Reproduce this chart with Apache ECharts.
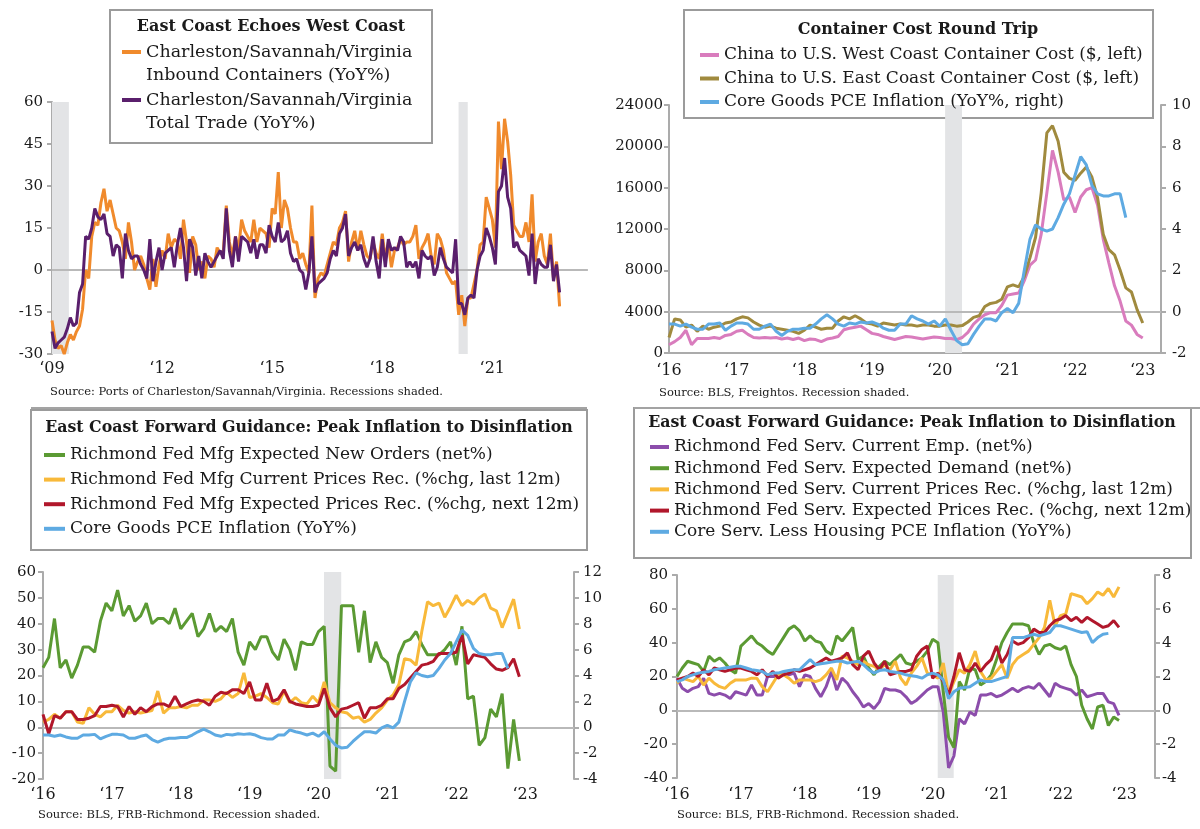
<!DOCTYPE html>
<html>
<head>
<meta charset="utf-8">
<title>East Coast Echoes West Coast</title>
<script src="https://cdn.jsdelivr.net/npm/echarts@6/dist/echarts.min.js"></script>
<style>
  html, body { margin: 0; padding: 0; background: #fff; }
  #chart { width: 1200px; height: 829px; }
</style>
</head>
<body>
<div id="chart"></div>
<script>
// ---------- data (monthly) ----------
// panel 1: Jan 2009 - Nov 2022
const portsInbound = [
  -18,-25,-28,-27,-30,-26,-23,-25,-22,-20,-14,0,
  -3,12,17,16,24,29,21,25,20,15,14,10,
  4,17,10,0,3,5,2,-3,-7,4,-6,2,
  7,4,13,8,11,10,4,18,10,-1,12,9,
  0,3,-3,5,4,1,8,6,6,23,10,5,
  12,7,18,14,12,10,18,10,15,14,13,8,
  22,20,35,15,25,22,15,10,10,4,6,2,
  -1,23,-10,-3,-1,-2,2,6,10,9,15,17,
  21,3,10,14,7,14,9,5,4,10,6,4,
  13,4,10,1,7,8,11,9,10,10,12,16,
  4,8,10,13,5,2,13,11,7,-1,-3,-5,
  -4,-16,-9,-20,-10,-10,-5,0,9,10,26,22,
  18,8,53,36,54,46,34,16,14,12,12,17,
  10,27,3,10,13,5,2,13,-3,3,-13
];
const portsTotal = [
  -22,-28,-26,-25,-24,-21,-17,-20,-19,-8,-5,12,
  11,15,22,19,18,20,13,12,5,9,8,-3,
  13,7,4,5,5,2,0,-3,11,-4,3,8,
  0,6,7,8,1,9,15,8,-4,11,8,-2,
  5,-3,6,3,1,3,5,7,4,22,7,1,
  12,3,12,11,10,6,11,4,9,9,6,16,
  12,10,17,10,11,14,6,3,4,0,-1,-7,
  -1,12,-8,-5,-4,-3,-1,4,7,5,13,15,
  20,5,8,10,7,9,4,1,4,12,3,-3,
  11,1,11,7,8,7,12,10,1,3,1,3,
  -3,7,5,4,5,-2,1,8,4,1,0,-1,
  11,-12,-12,-16,-10,-9,-10,0,5,7,15,12,
  8,2,28,30,40,26,22,8,10,7,6,5,
  -2,13,-5,4,2,1,1,9,-4,2,-8
];

// panel 2: container cost, Jan 2016 - Jan 2023 ($)
const westCoastCost = [
  800,1100,1500,2200,800,1400,1400,1400,1500,1400,1700,1800,
  2100,2200,1800,1500,1450,1500,1450,1500,1350,1450,1300,1450,
  1200,1350,1300,1100,1350,1450,1600,2250,2400,2500,2600,2250,
  1900,1800,1600,1450,1300,1450,1600,1550,1450,1350,1450,1550,
  1500,1400,1400,1300,1500,2000,2800,3300,3700,3900,3900,4600,
  5600,5700,5800,7000,8500,9000,11500,15500,19600,17500,14800,15100,
  13600,15100,15800,16000,14300,11000,8700,6500,5000,3100,2700,1800,
  1450
];
const eastCoastCost = [
  1500,3300,3200,2500,2700,2100,2600,2300,2500,2600,2900,3000,
  3300,3500,3400,3000,2700,2500,2600,2400,2300,2200,2100,1900,
  2200,2700,2500,2300,2400,2400,3100,3500,3300,3600,3300,2900,
  2800,2600,2900,2800,2700,2800,2700,2700,2600,2700,2700,2600,
  2600,2700,2700,2600,2650,3000,3450,3600,4500,4800,4900,5200,
  6400,6600,6400,7400,9200,11200,15500,21300,22000,20500,17500,16900,
  16700,17400,18000,17000,15000,11500,10000,9500,8000,6300,5900,4200,
  2900
];
// core goods PCE YoY%, Jan 2016 - Oct 2022 (used in panels 2 and 3)
const coreGoodsPce = [
  -0.6,-0.6,-0.7,-0.6,-0.75,-0.85,-0.85,-0.6,-0.6,-0.55,-0.9,-0.7,
  -0.55,-0.55,-0.6,-0.85,-0.85,-0.7,-0.6,-0.95,-1.15,-0.95,-0.85,-0.85,
  -0.8,-0.8,-0.6,-0.35,-0.15,-0.35,-0.6,-0.7,-0.55,-0.6,-0.5,-0.55,
  -0.5,-0.6,-0.8,-0.9,-0.9,-0.6,-0.6,-0.2,-0.35,-0.45,-0.6,-0.45,
  -0.7,-0.35,-0.9,-1.4,-1.6,-1.55,-1.1,-0.7,-0.35,-0.35,-0.45,-0.05,
  0.15,-0.05,0.4,2.0,3.5,4.2,4.0,3.9,4.0,4.55,5.2,5.7,
  6.6,7.5,7.1,6.1,5.7,5.6,5.6,5.7,5.7,4.55
];

// panel 3: Richmond Fed manufacturing, Jan 2016 - Dec 2022
const mfgNewOrders = [
  23,27,42,23,26,19,24,31,31,29,41,48,
  45,53,43,47,41,43,48,40,42,42,40,46,
  38,41,44,35,38,44,37,39,37,42,29,24,
  33,30,35,35,29,26,34,30,22,33,32,32,
  37,39,-15,-17,47,47,47,29,45,25,33,27,
  25,17,28,33,34,37,32,28,28,28,30,33,
  24,39,11,12,-7,-4,7,4,13,-16,3,-13
];
const mfgPricesLast12 = [
  0.4,0.6,1.0,0.7,1.2,1.2,0.4,0.3,1.5,1.0,0.8,1.2,
  1.2,1.7,1.3,1.1,1.2,1.1,1.2,1.3,2.8,1.1,1.5,1.5,
  1.6,1.5,1.7,1.7,2.1,2.1,2.0,2.2,2.7,2.3,2.6,4.2,
  2.3,2.4,2.6,2.3,1.9,1.8,2.8,1.9,2.3,1.9,1.8,2.4,
  1.9,3.5,1.9,1.5,1.2,1.1,0.7,0.8,0.4,0.6,1.1,1.5,
  2.1,2.5,3.3,5.3,5.2,4.8,7.4,9.7,9.4,9.6,8.5,9.3,
  10.2,9.4,9.8,9.5,10.0,10.3,9.2,9.0,7.7,8.8,9.9,7.6
];
const mfgPricesNext12 = [
  1.0,-0.5,0.9,0.7,1.2,1.2,0.6,0.6,0.7,0.9,1.6,1.6,
  1.7,1.6,0.8,1.6,1.0,1.5,1.2,1.6,1.8,1.8,1.6,2.4,
  1.6,1.8,2.0,2.1,2.0,1.7,2.4,2.7,2.6,2.9,2.9,2.6,
  3.5,2.1,2.1,3.4,2.0,2.2,2.9,2.0,1.8,1.7,1.6,1.6,
  1.7,3.0,1.5,0.8,1.4,1.5,1.7,1.9,0.7,1.5,1.5,1.7,
  2.2,2.2,3.0,3.3,3.8,4.3,4.8,4.9,5.1,5.7,5.7,5.7,
  5.8,7.1,4.9,5.6,5.5,5.4,4.9,4.5,4.4,4.6,5.3,3.9
];

// panel 4: Richmond Fed services, Jan 2016 - Dec 2022
const servEmployment = [
  19,13,11,13,14,19,10,9,10,9,7,11,
  10,9,15,9,9,20,20,20,22,21,22,14,
  21,20,13,8,14,23,12,19,16,11,7,2,
  4,1,5,13,12,12,11,8,4,6,9,12,
  14,14,-1,-34,-27,-5,-8,-1,-3,9,9,10,
  8,9,11,13,11,13,14,13,16,12,8,16,
  14,13,12,9,12,8,9,10,10,5,4,-3
];
const servDemand = [
  20,25,29,28,27,23,32,29,31,28,24,22,
  38,41,44,40,38,35,33,38,43,48,50,47,
  41,44,41,40,35,33,44,41,45,49,30,32,
  25,21,26,29,27,30,33,28,27,29,31,35,
  42,40,11,-16,-22,17,12,25,24,15,17,21,
  30,40,46,51,51,51,50,40,33,38,39,37,
  36,38,27,20,3,-5,-11,2,3,-9,-4,-6
];
const servPricesLast12 = [
  1.6,1.9,1.8,1.7,2.0,1.5,1.9,1.6,1.4,1.3,1.6,1.8,
  1.8,1.8,1.9,1.9,1.4,1.1,1.6,2.1,2.1,1.9,1.6,1.8,
  1.8,1.8,1.7,1.8,2.1,2.5,1.8,3.2,3.1,2.9,2.7,2.9,
  2.7,2.6,2.4,2.7,2.4,2.9,1.9,1.5,2.2,2.6,3.1,2.2,
  2.1,1.9,2.8,0.9,1.7,2.4,2.2,2.7,3.5,2.3,1.8,1.9,
  2.3,2.7,1.9,2.7,3.1,3.3,3.5,3.9,4.3,4.9,6.5,5.0,
  5.6,5.7,6.9,6.8,6.7,6.3,6.6,7.0,6.8,7.2,6.7,7.3
];
const servPricesNext12 = [
  1.8,1.9,2.0,2.2,2.0,2.4,2.1,2.5,2.4,2.3,2.4,2.5,
  2.5,2.4,2.3,2.1,2.4,2.0,2.3,1.9,2.1,2.2,2.4,2.3,
  2.4,2.5,2.7,2.9,3.1,2.9,3.0,3.1,3.4,2.7,2.4,3.2,
  3.5,2.8,2.4,2.9,2.1,2.2,2.3,2.3,2.4,3.2,3.6,3.8,
  1.9,2.2,1.7,0.9,2.0,3.4,2.4,2.3,2.8,2.3,2.7,3.0,
  3.8,2.8,3.3,4.1,3.9,4.0,4.3,4.8,4.6,4.6,5.0,5.3,
  5.4,5.6,5.3,5.5,5.2,5.5,5.3,5.1,4.9,5.0,5.3,4.9
];
const coreServExHousing = [
  1.7,1.8,2.0,2.1,2.2,2.25,2.3,2.4,2.45,2.5,2.55,2.6,
  2.6,2.5,2.4,2.35,2.3,2.1,2.2,2.2,2.3,2.35,2.4,2.4,
  2.7,3.0,2.7,2.75,2.8,2.85,2.9,2.9,2.8,2.85,2.9,2.7,
  2.4,2.2,2.35,2.4,2.3,2.25,2.2,2.1,2.05,2.0,1.9,2.1,
  2.2,2.1,1.8,0.7,1.1,1.3,1.35,1.4,1.6,1.8,1.7,1.7,
  1.8,1.9,2.0,4.3,4.3,4.3,4.4,4.5,4.4,4.5,4.6,5.0,
  5.0,4.9,4.8,4.7,4.6,4.65,4.0,4.3,4.5,4.55
];

// recessions, as fractional years
const recessionGfc = [2009, 2009.46];
const recessionCovid = [2020.08, 2020.33];

// ---------- helpers ----------
const FONT = '"DejaVu Serif", serif';
const INK = '#1a1a1a';
const AXIS_GRAY = '#ababab';

// monthly values -> [fractional year, value]
const monthly = (startYear, values) => values.map((v, i) => [startYear + i / 12, v]);

function xAxisFor(gridIndex, min, max, step, margin) {
  return {
    type: 'value', gridIndex, min, max, interval: step,
    axisLine: { lineStyle: { color: AXIS_GRAY, width: 2 } },
    axisTick: { show: false },
    splitLine: { show: false },
    axisLabel: {
      margin, color: INK, fontFamily: FONT, fontSize: 16,
      showMaxLabel: false,
      formatter: v => '\u2018' + String(Math.round(v)).slice(2)
    }
  };
}

function yAxisFor(gridIndex, position, min, max, step, margin) {
  return {
    type: 'value', gridIndex, position, min, max, interval: step,
    axisLine: { show: true, lineStyle: { color: AXIS_GRAY, width: 2 } },
    axisTick: { show: true, length: 5, lineStyle: { color: AXIS_GRAY, width: 2 } },
    splitLine: { show: false },
    axisLabel: { margin, color: INK, fontFamily: FONT, fontSize: 15, formatter: v => String(v) }
  };
}

function line(name, data, color, xi, yi, extra) {
  return Object.assign({
    name, type: 'line', xAxisIndex: xi, yAxisIndex: yi, data,
    showSymbol: false, symbol: 'none', z: 3,
    lineStyle: { color, width: 3 }, itemStyle: { color }
  }, extra || {});
}

function shade(ranges) {
  return {
    silent: true, z: 1,
    itemStyle: { color: '#e3e4e6' },
    data: ranges.map(r => [{ xAxis: r[0] }, { xAxis: r[1] }])
  };
}

const zeroLine = {
  silent: true, symbol: 'none', z: 2,
  label: { show: false },
  lineStyle: { color: '#b9b9b9', width: 2, type: 'solid' },
  data: [{ yAxis: 0 }]
};

function legendFor(names, left, top, lineH, gap, iconW) {
  return {
    data: names, left, top, orient: 'vertical', padding: 0,
    itemWidth: iconW, itemHeight: 4, icon: 'rect', itemGap: gap,
    textStyle: { fontFamily: FONT, fontSize: 17, color: INK, lineHeight: lineH }
  };
}

// two-line legend entry with the swatch on the first line (blank line above keeps it centred)
function twoLineLegend(name, left, top) {
  return {
    data: [name], left, top, orient: 'vertical', padding: 0,
    itemWidth: 19, itemHeight: 4, icon: 'rect',
    formatter: n => '\n' + n.replace('Virginia ', 'Virginia\n'),
    textStyle: { fontFamily: FONT, fontSize: 17.5, color: INK, lineHeight: 23 }
  };
}

function boxText(text, x, y, size, bold, align) {
  return {
    type: 'text', x, y, silent: true,
    style: {
      text, fill: INK, fontFamily: FONT, fontSize: size,
      fontWeight: bold ? 'bold' : 'normal',
      align: align || 'center', verticalAlign: 'middle'
    }
  };
}

function frame(x, y, w, h) {
  return {
    type: 'rect', silent: true, z: 0,
    shape: { x, y, width: w, height: h },
    style: { fill: 'none', stroke: '#9b9b9b', lineWidth: 2 }
  };
}

function rule(x1, x2, y) {
  return {
    type: 'line', silent: true,
    shape: { x1, y1: y, x2, y2: y },
    style: { stroke: '#a3a3a3', lineWidth: 2 }
  };
}

// ---------- series names ----------
const N_INBOUND = 'Charleston/Savannah/Virginia Inbound Containers (YoY%)';
const N_TOTAL = 'Charleston/Savannah/Virginia Total Trade (YoY%)';
const N_WEST = 'China to U.S. West Coast Container Cost ($, left)';
const N_EAST = 'China to U.S. East Coast Container Cost ($, left)';
const N_GOODS_R = 'Core Goods PCE Inflation (YoY%, right)';
const N_MFG_ORD = 'Richmond Fed Mfg Expected New Orders (net%)';
const N_MFG_CUR = 'Richmond Fed Mfg Current Prices Rec. (%chg, last 12m)';
const N_MFG_EXP = 'Richmond Fed Mfg Expected Prices Rec. (%chg, next 12m)';
const N_GOODS = 'Core Goods PCE Inflation (YoY%)';
const N_SRV_EMP = 'Richmond Fed Serv. Current Emp. (net%)';
const N_SRV_DEM = 'Richmond Fed Serv. Expected Demand (net%)';
const N_SRV_CUR = 'Richmond Fed Serv. Current Prices Rec. (%chg, last 12m)';
const N_SRV_EXP = 'Richmond Fed Serv. Expected Prices Rec. (%chg, next 12m)';
const N_SRV_PCE = 'Core Serv. Less Housing PCE Inflation (YoY%)';

const C = {
  orange: '#f08a2c', darkPurple: '#5a1f6c',
  pink: '#d97cbd', olive: '#a08a3e', blue: '#5eaae2',
  green: '#5b9a33', yellow: '#f8b93a', red: '#b1172b', purple: '#8c4dab'
};

const chart = echarts.init(document.getElementById('chart'), null, { renderer: 'canvas' });

const option = {
  animation: false,
  backgroundColor: '#fff',
  grid: [
    { left: 52, top: 102, width: 535, height: 252 },
    { left: 669, top: 105, width: 492, height: 248 },
    { left: 43, top: 572, width: 531, height: 207 },
    { left: 677, top: 575, width: 478, height: 203 }
  ],
  xAxis: [
    xAxisFor(0, 2009, 2023.58, 3, 7),
    xAxisFor(1, 2016, 2023.27, 1, 10),
    xAxisFor(2, 2016, 2023.71, 1, 8),
    xAxisFor(3, 2016, 2023.48, 1, 9)
  ],
  yAxis: [
    yAxisFor(0, 'left', -30, 60, 15, 9),
    yAxisFor(1, 'left', 0, 24000, 4000, 6),
    yAxisFor(1, 'right', -2, 10, 2, 11),
    yAxisFor(2, 'left', -20, 60, 10, 7),
    yAxisFor(2, 'right', -4, 12, 2, 9),
    yAxisFor(3, 'left', -40, 80, 20, 9),
    yAxisFor(3, 'right', -4, 8, 2, 7)
  ],
  legend: [
    twoLineLegend(N_INBOUND, 122, 17.5),
    twoLineLegend(N_TOTAL, 122, 65.5),
    legendFor([N_WEST, N_EAST, N_GOODS_R], 700, 45, 20, 3.5, 19),
    legendFor([N_MFG_ORD, N_MFG_CUR, N_MFG_EXP, N_GOODS], 44, 445, 20, 4.6, 21),
    legendFor([N_SRV_EMP, N_SRV_DEM, N_SRV_CUR, N_SRV_EXP, N_SRV_PCE], 650, 438, 18, 3.2, 19)
  ],
  graphic: [
    frame(110, 10, 322, 133),
    boxText('East Coast Echoes West Coast', 271, 27, 16, true),
    frame(684, 10, 469, 108),
    boxText('Container Cost Round Trip', 918, 30, 16, true),
    frame(31, 410, 556, 140),
    boxText('East Coast Forward Guidance: Peak Inflation to Disinflation', 309, 428, 15.8, true),
    frame(634, 408, 557, 150),
    boxText('East Coast Forward Guidance: Peak Inflation to Disinflation', 912, 423, 15.8, true),
    boxText('Source: Ports of Charleston/Savannah/Virginia. Recessions shaded.', 50, 392, 11.5, false, 'left'),
    boxText('Source: BLS, Freightos. Recession shaded.', 659, 393, 11.5, false, 'left'),
    boxText('Source: BLS, FRB-Richmond. Recession shaded.', 38, 815, 11.5, false, 'left'),
    boxText('Source: BLS, FRB-Richmond. Recession shaded.', 677, 815, 11.5, false, 'left'),
    rule(31, 587, 408),
    rule(634, 1200, 408)
  ],
  series: [
    // panel 1
    line(N_INBOUND, monthly(2009, portsInbound), C.orange, 0, 0,
      { markArea: shade([recessionGfc, recessionCovid]), markLine: zeroLine }),
    line(N_TOTAL, monthly(2009, portsTotal), C.darkPurple, 0, 0),
    // panel 2
    line(N_WEST, monthly(2016, westCoastCost), C.pink, 1, 1, { markArea: shade([recessionCovid]) }),
    line(N_EAST, monthly(2016, eastCoastCost), C.olive, 1, 1),
    line(N_GOODS_R, monthly(2016, coreGoodsPce), C.blue, 1, 2, { markLine: zeroLine }),
    // panel 3
    line(N_MFG_ORD, monthly(2016, mfgNewOrders), C.green, 2, 3,
      { markArea: shade([recessionCovid]), markLine: zeroLine }),
    line(N_MFG_CUR, monthly(2016, mfgPricesLast12), C.yellow, 2, 4),
    line(N_MFG_EXP, monthly(2016, mfgPricesNext12), C.red, 2, 4),
    line(N_GOODS, monthly(2016, coreGoodsPce), C.blue, 2, 4),
    // panel 4
    line(N_SRV_EMP, monthly(2016, servEmployment), C.purple, 3, 5,
      { markArea: shade([recessionCovid]), markLine: zeroLine }),
    line(N_SRV_DEM, monthly(2016, servDemand), C.green, 3, 5),
    line(N_SRV_CUR, monthly(2016, servPricesLast12), C.yellow, 3, 6),
    line(N_SRV_EXP, monthly(2016, servPricesNext12), C.red, 3, 6),
    line(N_SRV_PCE, monthly(2016, coreServExHousing), C.blue, 3, 6)
  ]
};

chart.setOption(option);
</script>
</body>
</html>
